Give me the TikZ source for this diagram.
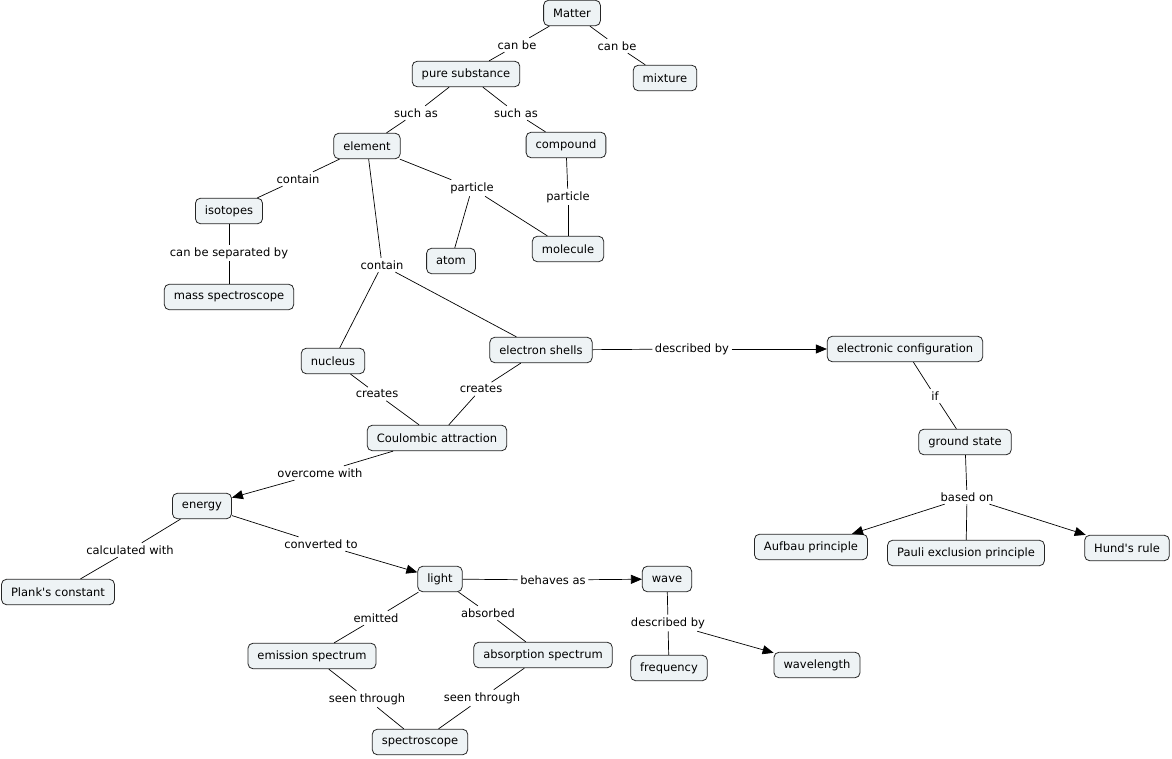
\documentclass[tikz,border=0pt]{standalone}
\usepackage{fontspec}
\newfontfamily\cmapfont{DejaVu Sans}
\usetikzlibrary{arrows.meta}
\definecolor{cmapfill}{HTML}{EEF3F5}
\begin{document}
\begin{tikzpicture}[x=1pt,y=-1pt,
 concept/.style={draw=black!85, fill=cmapfill, rounded corners=5pt, minimum height=25.5pt, inner xsep=9.5pt, font=\cmapfont\fontsize{11.5}{13}\selectfont, line width=0.8pt},
 link/.style={inner sep=2.5pt, font=\cmapfont\fontsize{11.5}{13}\selectfont},
 conn/.style={line width=0.7pt},
 arr/.style={conn, -{Triangle[length=11pt,width=9pt]}}]
\useasboundingbox (0,0) rectangle (1172,759);
\fill[white] (0,0) rectangle (1172,759);
% concepts
\node[concept] (matter) at (572,13) {Matter};
\node[concept] (pure) at (466,74) {pure substance};
\node[concept] (mixture) at (665,78) {mixture};
\node[concept] (element) at (367,146) {element};
\node[concept] (compound) at (566,145) {compound};
\node[concept] (isotopes) at (229,211) {isotopes};
\node[concept] (atom) at (451,261) {atom};
\node[concept] (molecule) at (568,249) {molecule};
\node[concept] (massspec) at (229,297) {mass spectroscope};
\node[concept] (nucleus) at (333,361) {nucleus};
\node[concept] (eshells) at (541,350) {electron shells};
\node[concept] (econf) at (905,349) {electronic configuration};
\node[concept] (coulomb) at (437,438) {Coulombic attraction};
\node[concept] (ground) at (965,442) {ground state};
\node[concept] (energy) at (202,506) {energy};
\node[concept] (aufbau) at (811,547) {Aufbau principle};
\node[concept] (pauli) at (966,553) {Pauli exclusion principle};
\node[concept] (hund) at (1127,548) {Hund's rule};
\node[concept] (plank) at (58,592) {Plank's constant};
\node[concept] (light) at (440,579) {light};
\node[concept] (wave) at (667,579) {wave};
\node[concept] (emission) at (312,656) {emission spectrum};
\node[concept] (absorption) at (543,655) {absorption spectrum};
\node[concept] (freq) at (669,668) {frequency};
\node[concept] (wavelength) at (817,665) {wavelength};
\node[concept] (spectroscope) at (420,742) {spectroscope};
% linking phrases
\node[link] (canbeA) at (517,45) {can be};
\node[link] (canbeB) at (617,46) {can be};
\node[link] (suchasA) at (416,113) {such as};
\node[link] (suchasB) at (516,113) {such as};
\node[link] (containA) at (298,179) {contain};
\node[link] (particleA) at (472,188) {particle};
\node[link] (particleB) at (568,197) {particle};
\node[link] (separated) at (229,253) {can be separated by};
\node[link] (containB) at (382,265) {contain};
\node[link] (descA) at (692,349) {described by};
\node[link] (createsA) at (377,394) {creates};
\node[link] (createsB) at (481,389) {creates};
\node[link] (if) at (935,396) {if};
\node[link] (overcome) at (320,473) {overcome with};
\node[link] (basedon) at (967,497) {based on};
\node[link] (calc) at (130,550) {calculated with};
\node[link] (converted) at (321,544) {converted to};
\node[link] (behaves) at (553,580) {behaves as};
\node[link] (emitted) at (376,618) {emitted};
\node[link] (absorbed) at (488,613) {absorbed};
\node[link] (descB) at (668,623) {described by};
\node[link] (seenA) at (367,699) {seen through};
\node[link] (seenB) at (482,698) {seen through};
% connectors
\draw[conn] (matter) -- (canbeA); \draw[conn] (canbeA) -- (pure);
\draw[conn] (matter) -- (canbeB); \draw[conn] (canbeB) -- (mixture);
\draw[conn] (pure) -- (suchasA); \draw[conn] (suchasA) -- (element);
\draw[conn] (pure) -- (suchasB); \draw[conn] (suchasB) -- (compound);
\draw[conn] (element) -- (containA); \draw[conn] (containA) -- (isotopes);
\draw[conn] (element) -- (particleA); \draw[conn] (particleA) -- (atom);
\draw[conn] (particleA) -- (molecule);
\draw[conn] (compound) -- (particleB); \draw[conn] (particleB) -- (molecule);
\draw[conn] (isotopes) -- (separated); \draw[conn] (separated) -- (massspec);
\draw[conn] (element) -- (containB); \draw[conn] (containB) -- (nucleus);
\draw[conn] (containB) -- (eshells);
\draw[conn] (eshells) -- (descA); \draw[arr] (descA) -- (econf);
\draw[conn] (nucleus) -- (createsA); \draw[conn] (createsA) -- (coulomb);
\draw[conn] (eshells) -- (createsB); \draw[conn] (createsB) -- (coulomb);
\draw[conn] (econf) -- (if); \draw[conn] (if) -- (ground);
\draw[conn] (coulomb) -- (overcome); \draw[arr] (overcome) -- (energy);
\draw[conn] (ground) -- (basedon); \draw[arr] (basedon) -- (aufbau);
\draw[conn] (basedon) -- (pauli); \draw[arr] (basedon) -- (hund);
\draw[conn] (energy) -- (calc); \draw[conn] (calc) -- (plank);
\draw[conn] (energy) -- (converted); \draw[arr] (converted) -- (light);
\draw[conn] (light) -- (behaves); \draw[arr] (behaves) -- (wave);
\draw[conn] (light) -- (emitted); \draw[conn] (emitted) -- (emission);
\draw[conn] (light) -- (absorbed); \draw[conn] (absorbed) -- (absorption);
\draw[conn] (wave) -- (descB); \draw[conn] (descB) -- (freq);
\draw[arr] (descB) -- (wavelength);
\draw[conn] (emission) -- (seenA); \draw[conn] (seenA) -- (spectroscope);
\draw[conn] (absorption) -- (seenB); \draw[conn] (seenB) -- (spectroscope);
\end{tikzpicture}
\end{document}
